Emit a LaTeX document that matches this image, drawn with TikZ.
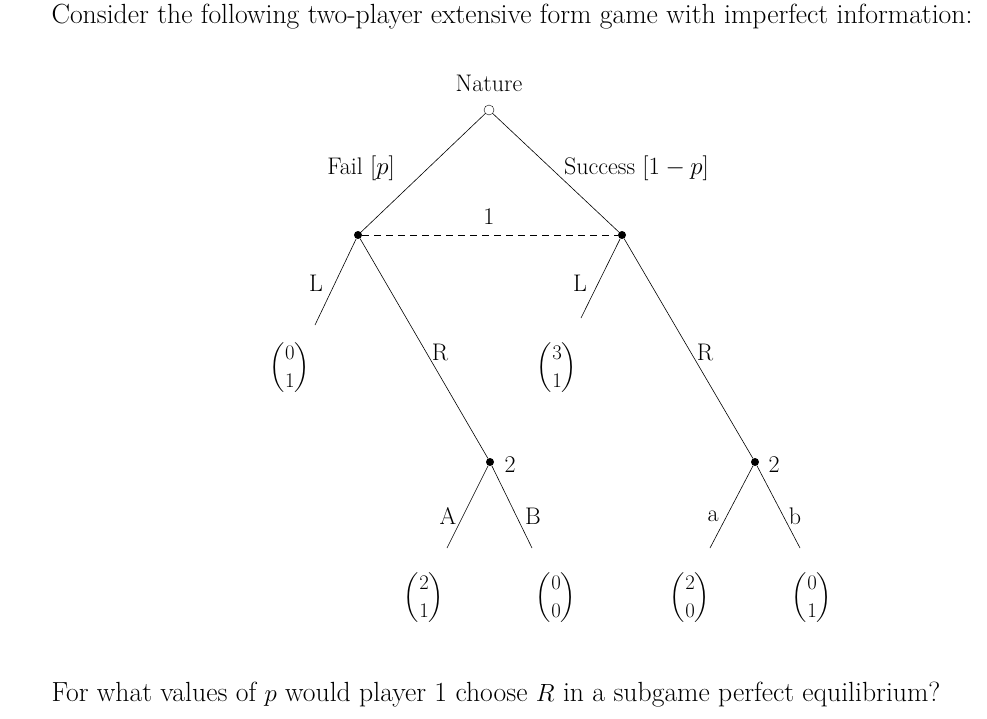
\documentclass[tikz,border=0pt]{standalone}
\usepackage{amsmath}
\begin{document}
\begin{tikzpicture}[x=1pt,y=-1pt,
  lbl/.style={font=\fontsize{24}{28}\selectfont, inner sep=0pt},
  dec/.style={circle, fill=black, inner sep=0pt, minimum size=8},
  chance/.style={circle, draw, fill=white, inner sep=0pt, minimum size=10},
  pay/.style={font=\fontsize{20}{24}\selectfont, inner sep=0pt},
  edge/.style={draw, line width=0.6pt}]
\useasboundingbox (0,0) rectangle (987,718);
\node[lbl, font=\fontsize{27.7}{32}\selectfont] (top) at (512,17) {Consider the following two-player extensive form game with imperfect information:};
\node[lbl, font=\fontsize{27.7}{32}\selectfont] (bot) at (496,695) {For what values of $p$ would player 1 choose $R$ in a subgame perfect equilibrium?};
\node[chance] (n) at (489,110) {};
\node[lbl] (nl) at (489,83) {Nature};
\node[dec] (f) at (358,235) {};
\node[dec] (s) at (622,235) {};
\node[dec] (p2) at (490,462) {};
\node[dec] (q2) at (755,462) {};
\node[pay] (l1) at (290,368) {$\dbinom{0}{1}$};
\node[pay] (l2) at (557,368) {$\dbinom{3}{1}$};
\node[pay] (l3) at (424,598) {$\dbinom{2}{1}$};
\node[pay] (l4) at (556,598) {$\dbinom{0}{0}$};
\node[pay] (l5) at (690,598) {$\dbinom{2}{0}$};
\node[pay] (l6) at (812,598) {$\dbinom{0}{1}$};
\coordinate (e1) at (315,325);
\coordinate (e2) at (581,318);
\coordinate (e3) at (447,548);
\coordinate (e4) at (532,548);
\coordinate (e5) at (710,548);
\coordinate (e6) at (800,548);
\draw[edge] (n) -- (f);
\draw[edge] (n) -- (s);
\draw[edge, dash pattern=on 7pt off 5pt] (f) -- (s);
\draw[edge] (f) -- (e1);
\draw[edge] (f) -- (p2);
\draw[edge] (s) -- (e2);
\draw[edge] (s) -- (q2);
\draw[edge] (p2) -- (e3);
\draw[edge] (p2) -- (e4);
\draw[edge] (q2) -- (e5);
\draw[edge] (q2) -- (e6);
\node[lbl, anchor=east] (fl) at (395,168) {Fail $[p]$};
\node[lbl, anchor=west] (sl) at (564,168) {Success $[1-p]$};
\node[lbl] (one) at (489,217) {1};
\node[lbl] (a1) at (316,283) {L};
\node[lbl] (a2) at (440,352) {R};
\node[lbl] (a3) at (580,283) {L};
\node[lbl] (a4) at (705,352) {R};
\node[lbl] (t1) at (510,465) {2};
\node[lbl] (t2) at (774,465) {2};
\node[lbl] (a5) at (448,516) {A};
\node[lbl] (a6) at (533,516) {B};
\node[lbl] (a7) at (713,516) {a};
\node[lbl] (a8) at (795,516) {b};
\end{tikzpicture}
\end{document}
